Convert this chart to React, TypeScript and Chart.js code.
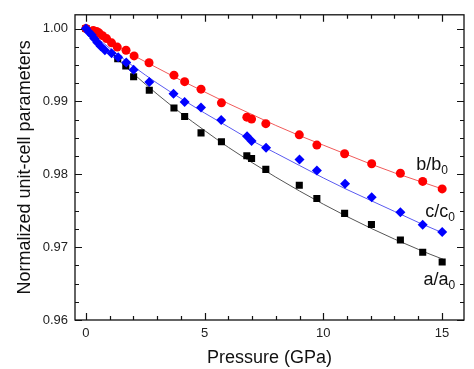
import React, { useEffect, useRef } from "react";
import { Chart, registerables } from "chart.js";

Chart.register(...registerables);

// Measured data (pressure in GPa, normalized lattice parameter)
const pressureA = [0, 1.34, 1.68, 2.01, 2.67, 3.71, 4.16, 4.85, 5.71, 6.78, 6.98, 7.58, 8.99, 9.73, 10.9, 12.03, 13.25, 14.19, 15.01];
const ratioA = [1.0, 0.99587, 0.99486, 0.99338, 0.99152, 0.98909, 0.98792, 0.98568, 0.98447, 0.98255, 0.98215, 0.98067, 0.97848, 0.97668, 0.97463, 0.97311, 0.97097, 0.9693, 0.96796];

const pressureB = [0, 0.31, 0.45, 0.56, 0.7, 0.87, 1.08, 1.32, 1.69, 2.03, 2.66, 3.71, 4.16, 4.85, 5.71, 6.78, 6.98, 7.58, 8.99, 9.73, 10.9, 12.04, 13.25, 14.19, 15.01];
const ratioB = [1.0, 0.99973, 0.9996, 0.99937, 0.99902, 0.99862, 0.99803, 0.99745, 0.99701, 0.99624, 0.9953, 0.9936, 0.99271, 0.99168, 0.9898, 0.98783, 0.98757, 0.98694, 0.98541, 0.984, 0.98282, 0.98144, 0.98013, 0.97902, 0.97799];

const pressureC = [0, 0.14, 0.24, 0.35, 0.48, 0.62, 0.8, 1.08, 1.36, 1.7, 2.01, 2.67, 3.69, 4.16, 4.85, 5.7, 6.79, 6.98, 7.59, 9.0, 9.73, 10.92, 12.04, 13.25, 14.19, 15.01];
const ratioC = [1.0, 0.99946, 0.99913, 0.99862, 0.99808, 0.99758, 0.99701, 0.99662, 0.99605, 0.99534, 0.99434, 0.99266, 0.99103, 0.98993, 0.98917, 0.98745, 0.98521, 0.98456, 0.98362, 0.98201, 0.9805, 0.9787, 0.97683, 0.97477, 0.97306, 0.97208];

// Fitted curves
const fitPressure = [0, 1, 2, 3, 4, 5, 6, 7, 8, 9, 10, 11, 12, 13, 14, 15, 15.05];
const fitA = [1.0, 0.9968, 0.9938, 0.991, 0.9884, 0.986, 0.9837, 0.9816, 0.9796, 0.9777, 0.9759, 0.9742, 0.9726, 0.9711, 0.9697, 0.9684, 0.96835];
const fitB = [1.0, 0.9981, 0.9963, 0.9946, 0.9929, 0.9913, 0.9897, 0.9882, 0.9867, 0.9853, 0.984, 0.9827, 0.9814, 0.9802, 0.9791, 0.978, 0.97795];
const fitC = [1.0, 0.9973, 0.9948, 0.9925, 0.9904, 0.9884, 0.9865, 0.9846, 0.9829, 0.9812, 0.9795, 0.9779, 0.9764, 0.9749, 0.9734, 0.972, 0.97193];

// Curve labels: [main, subscript, x (GPa), y (value at baseline)]
const curveLabels: [string, string, number, number][] = [
  ["b/b", "0", 13.92, 0.98054],
  ["c/c", "0", 14.3, 0.97409],
  ["a/a", "0", 14.22, 0.96483],
];

const FONT = "'Liberation Sans', Arial, sans-serif";

const toXY = (xs: number[], ys: number[]) => xs.map((x, i) => ({ x, y: ys[i] }));

const framePlugin = {
  id: "frame",
  afterDraw(chart: any) {
    const { ctx, chartArea, scales } = chart;
    const { left, right, top, bottom } = chartArea;
    const xs = scales.x;
    const ys = scales.y;
    ctx.save();
    ctx.strokeStyle = "#111";
    ctx.lineWidth = 1.3;
    ctx.strokeRect(left, top, right - left, bottom - top);
    ctx.lineWidth = 1.2;
    ctx.beginPath();
    xs.ticks.forEach((t: any) => {
      const px = Math.round(xs.getPixelForValue(t.value)) + 0.5;
      const major = Math.abs(t.value / 5 - Math.round(t.value / 5)) < 1e-9;
      const len = major ? 7 : 4;
      ctx.moveTo(px, bottom);
      ctx.lineTo(px, bottom - len);
      ctx.moveTo(px, top);
      ctx.lineTo(px, top + len);
    });
    ys.ticks.forEach((t: any) => {
      const py = Math.round(ys.getPixelForValue(t.value)) + 0.5;
      const major = Math.abs(t.value * 100 - Math.round(t.value * 100)) < 1e-6;
      const len = major ? 7 : 4;
      ctx.moveTo(left, py);
      ctx.lineTo(left + len, py);
      ctx.moveTo(right, py);
      ctx.lineTo(right - len, py);
    });
    ctx.stroke();

    ctx.fillStyle = "#111";
    ctx.textBaseline = "alphabetic";
    ctx.textAlign = "left";
    curveLabels.forEach(([main, sub, lx, ly]) => {
      const px = xs.getPixelForValue(lx);
      const py = ys.getPixelForValue(ly);
      ctx.font = `18px ${FONT}`;
      ctx.fillText(main, px, py);
      const w = ctx.measureText(main).width;
      ctx.font = `12px ${FONT}`;
      ctx.fillText(sub, px + w, py + 4);
    });
    ctx.restore();
  },
};

export default function App() {
  const ref = useRef<HTMLCanvasElement | null>(null);

  useEffect(() => {
    if (!ref.current) return;
    const chart = new Chart(ref.current, {
      type: "scatter",
      data: {
        datasets: [
          {
            label: "c/c0",
            data: toXY(pressureC, ratioC),
            showLine: false,
            pointStyle: "rectRot",
            pointRadius: 5,
            backgroundColor: "#0000ff",
            borderColor: "#0000ff",
            borderWidth: 0,
            order: 0,
          },
          {
            label: "b/b0",
            data: toXY(pressureB, ratioB),
            showLine: false,
            pointStyle: "circle",
            pointRadius: 4.5,
            backgroundColor: "#ff0000",
            borderColor: "#ff0000",
            borderWidth: 0,
            order: 1,
          },
          {
            label: "a/a0",
            data: toXY(pressureA, ratioA),
            showLine: false,
            pointStyle: "rect",
            pointRadius: 5,
            backgroundColor: "#000000",
            borderColor: "#000000",
            borderWidth: 0,
            order: 2,
          },
          {
            label: "fit b",
            data: toXY(fitPressure, fitB),
            showLine: true,
            pointRadius: 0,
            borderColor: "#f05a5a",
            borderWidth: 1,
            cubicInterpolationMode: "monotone",
            order: 3,
          },
          {
            label: "fit c",
            data: toXY(fitPressure, fitC),
            showLine: true,
            pointRadius: 0,
            borderColor: "#5a5af0",
            borderWidth: 1,
            cubicInterpolationMode: "monotone",
            order: 3,
          },
          {
            label: "fit a",
            data: toXY(fitPressure, fitA),
            showLine: true,
            pointRadius: 0,
            borderColor: "#555555",
            borderWidth: 1,
            cubicInterpolationMode: "monotone",
            order: 3,
          },
        ] as any,
      },
      options: {
        responsive: false,
        animation: false,
        devicePixelRatio: 1,
        layout: { padding: { top: 8, right: 10, left: 0, bottom: 0 } },
        plugins: {
          legend: { display: false },
          tooltip: { enabled: false },
        },
        scales: {
          x: {
            type: "linear",
            min: -0.46,
            max: 15.93,
            grid: { display: false, drawTicks: false },
            border: { display: false },
            afterFit: (s: any) => {
              s.height = 49;
            },
            ticks: {
              stepSize: 1,
              includeBounds: false,
              autoSkip: false,
              maxRotation: 0,
              padding: 6,
              color: "#222",
              font: { family: FONT, size: 13 },
              callback: (v: any) => {
                const n = Number(v);
                return Math.abs(n / 5 - Math.round(n / 5)) < 1e-9 ? String(Math.round(n)) : "";
              },
            },
            title: {
              display: true,
              text: "Pressure (GPa)",
              color: "#111",
              font: { family: FONT, size: 18 },
              padding: { top: 0, bottom: 0 },
            },
          },
          y: {
            type: "linear",
            min: 0.96,
            max: 1.00188,
            grid: { display: false, drawTicks: false },
            border: { display: false },
            afterFit: (s: any) => {
              s.width = 75;
            },
            ticks: {
              stepSize: 0.0025,
              includeBounds: false,
              autoSkip: false,
              padding: 7,
              color: "#222",
              font: { family: FONT, size: 13 },
              callback: (v: any) => {
                const n = Number(v);
                return Math.abs(n * 100 - Math.round(n * 100)) < 1e-6 ? n.toFixed(2) : "";
              },
            },
            title: {
              display: true,
              text: "Normalized unit-cell parameters",
              color: "#111",
              font: { family: FONT, size: 18 },
              padding: { top: 14, bottom: 0 },
            },
          },
        },
      },
      plugins: [framePlugin],
    });
    return () => chart.destroy();
  }, []);

  return (
    <div style={{ position: "absolute", left: 0, top: 0, width: 474, height: 369, background: "#fff" }}>
      <canvas ref={ref} width={474} height={369} />
    </div>
  );
}
